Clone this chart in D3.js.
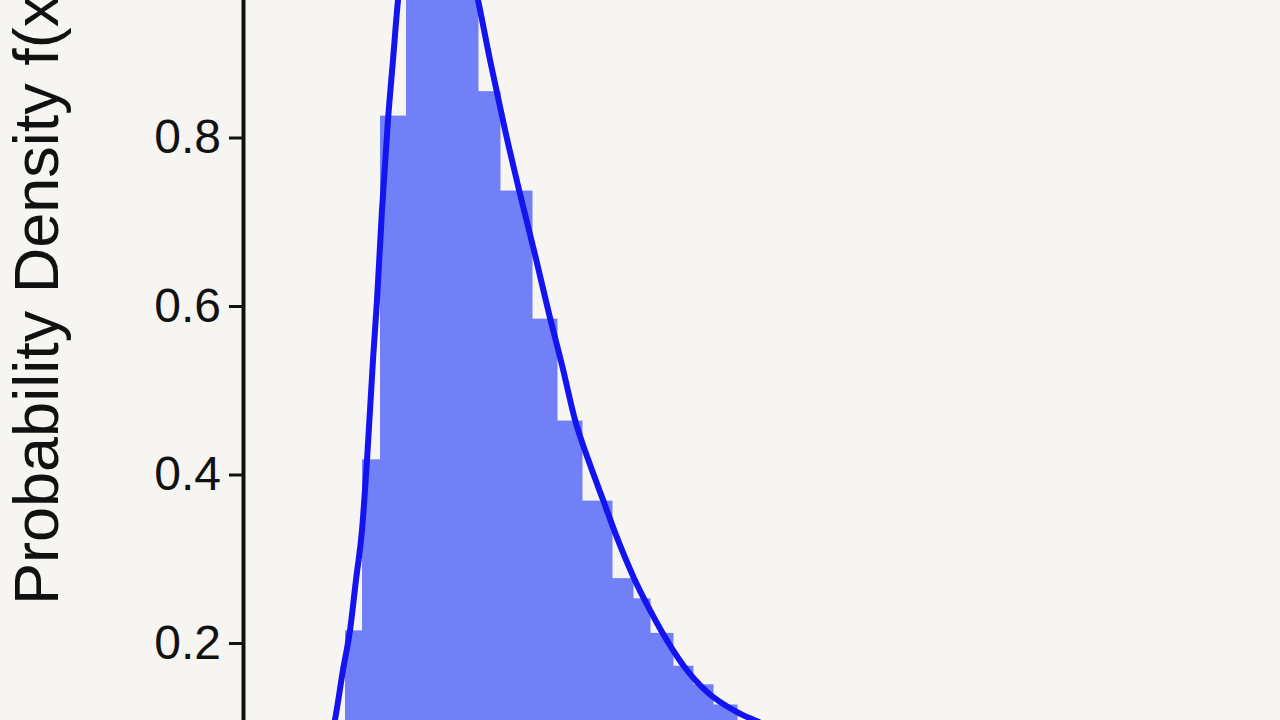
<!DOCTYPE html>
<html>
<head>
<meta charset="utf-8">
<script src="https://cdn.jsdelivr.net/npm/d3@7/dist/d3.min.js"></script>
<style>
html,body{margin:0;padding:0;background:#f6f5f1;overflow:hidden;}
svg{display:block;}
</style>
</head>
<body>
<svg id="chart" width="1280" height="720"></svg>
<script>
// Histogram bin edges (x units) and densities
const binStarts = [0.82, 1.02, 1.19, 1.37, 1.63, 1.99, 2.35, 2.57, 2.89, 3.14, 3.39, 3.69, 3.90, 4.07, 4.30, 4.50, 4.70, 4.94, 5.17];
const binEnds   = [1.02, 1.19, 1.37, 1.63, 1.99, 2.35, 2.57, 2.89, 3.14, 3.39, 3.69, 3.90, 4.07, 4.30, 4.50, 4.70, 4.94, 5.17, 5.42];
const binDensity = [0.07, 0.215, 0.418, 0.826, 1.04, 1.00, 0.855, 0.737, 0.585, 0.464, 0.369, 0.277, 0.253, 0.212, 0.173, 0.151, 0.127, 0.100, 0.085];

// Fitted density curve points
const curveX = [0.77, 0.82, 0.92, 1.00, 1.07, 1.13, 1.19, 1.24, 1.30, 1.34, 1.39, 1.45, 1.50, 1.55, 1.67, 1.89, 2.12, 2.27, 2.35, 2.47, 2.62, 2.76, 2.92, 3.07, 3.19, 3.32, 3.46, 3.60, 3.75, 3.91, 4.07, 4.19, 4.40, 4.64, 4.94, 5.14, 5.57, 6.07];
const curveY = [0.026, 0.061, 0.109, 0.168, 0.215, 0.275, 0.334, 0.417, 0.536, 0.607, 0.714, 0.821, 0.892, 0.963, 1.035, 1.07, 1.052, 1.005, 0.963, 0.892, 0.809, 0.738, 0.661, 0.586, 0.530, 0.465, 0.415, 0.370, 0.322, 0.277, 0.239, 0.213, 0.174, 0.142, 0.118, 0.107, 0.085, 0.067];

const yTicks = [0.2, 0.4, 0.6, 0.8];
const yLabel = "Probability Density f(x)";

const svg = d3.select("#chart");
const x = d3.scaleLinear().domain([0, 10.37]).range([243, 1280]);
const y = d3.scaleLinear().domain([0, 1]).range([811.5, -31]);

const bins = binStarts.map((s, i) => ({x0: s, x1: binEnds[i], v: binDensity[i]}));

svg.append("g").selectAll("rect").data(bins).join("rect")
  .attr("x", d => x(d.x0))
  .attr("width", d => x(d.x1) - x(d.x0) + 0.5)
  .attr("y", d => y(d.v))
  .attr("height", d => y(0) - y(d.v))
  .attr("fill", "#7280f8");

const pts = curveX.map((v, i) => [v, curveY[i]]);
svg.append("path")
  .datum(pts)
  .attr("fill", "none")
  .attr("stroke", "#1414f0")
  .attr("stroke-width", 6)
  .attr("stroke-linejoin", "round")
  .attr("d", d3.line().x(d => x(d[0])).y(d => y(d[1])).curve(d3.curveMonotoneX));

const axis = d3.axisLeft(y).tickValues(yTicks).tickFormat(d3.format(".1f")).tickSizeOuter(0).tickSize(14).tickPadding(8);
const g = svg.append("g").attr("transform", "translate(243,0)").call(axis);
g.select(".domain").attr("stroke", "#111").attr("stroke-width", 4);
g.selectAll(".tick line").attr("stroke", "#111").attr("stroke-width", 3);
g.selectAll(".tick text")
  .attr("fill", "#111")
  .attr("font-family", "'Liberation Sans', Arial, sans-serif")
  .attr("font-size", 48);

svg.append("text")
  .attr("transform", "translate(58,605) rotate(-90)")
  .attr("text-anchor", "start")
  .attr("font-family", "'Liberation Sans', Arial, sans-serif")
  .attr("font-size", 63)
  .attr("fill", "#111")
  .attr("xml:space", "preserve")
  .style("white-space", "pre")
  .text(yLabel);
</script>
</body>
</html>
